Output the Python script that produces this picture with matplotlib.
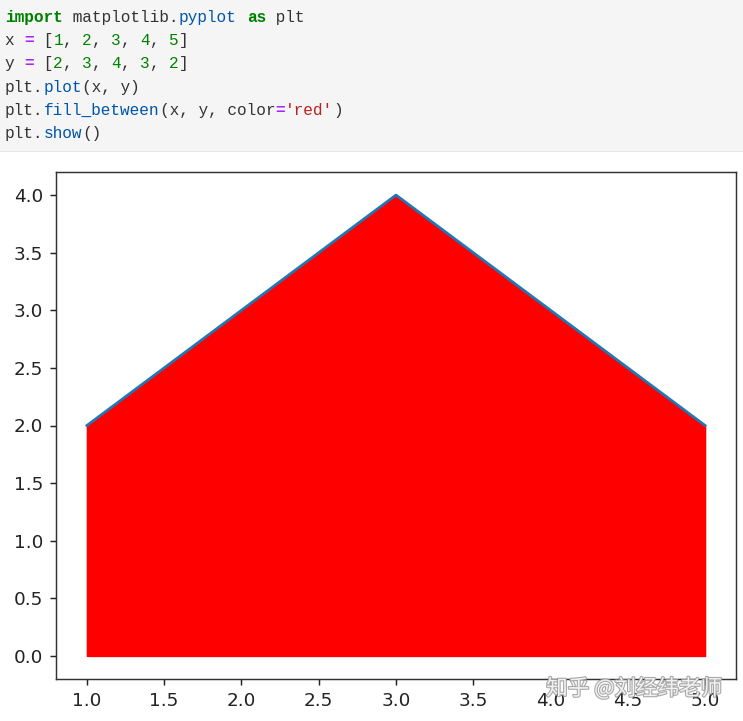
import matplotlib.pyplot as plt
import matplotlib.patheffects as pe
from matplotlib.patches import Rectangle

# data shown in the notebook cell
x = [1, 2, 3, 4, 5]
y = [2, 3, 4, 3, 2]

# code cell, tokenised as (text, colour, bold)
KW = "#008000"
OP = "#aa22ff"
NUM = "#008000"
ATTR = "#0055aa"
STR = "#ba2121"
TXT = "#333333"
code_lines = [
    [("import", KW, True), (" matplotlib.", TXT, False), ("pyplot", ATTR, False),
     (" ", TXT, False), ("as", KW, True), (" plt", TXT, False)],
    [("x ", TXT, False), ("=", OP, True), (" [", TXT, False), ("1", NUM, False), (", ", TXT, False),
     ("2", NUM, False), (", ", TXT, False), ("3", NUM, False), (", ", TXT, False),
     ("4", NUM, False), (", ", TXT, False), ("5", NUM, False), ("]", TXT, False)],
    [("y ", TXT, False), ("=", OP, True), (" [", TXT, False), ("2", NUM, False), (", ", TXT, False),
     ("3", NUM, False), (", ", TXT, False), ("4", NUM, False), (", ", TXT, False),
     ("3", NUM, False), (", ", TXT, False), ("2", NUM, False), ("]", TXT, False)],
    [("plt.", TXT, False), ("plot", ATTR, False), ("(x, y)", TXT, False)],
    [("plt.", TXT, False), ("fill_between", ATTR, False), ("(x, y, color", TXT, False),
     ("=", OP, True), ("'red'", STR, False), (")", TXT, False)],
    [("plt.", TXT, False), ("show", ATTR, False), ("()", TXT, False)],
]

W, H = 743, 721
fig = plt.figure(figsize=(W / 100, H / 100), dpi=100)

# grey code panel
fig.patches.append(Rectangle((0, 1 - 151 / H), 1, 151 / H, transform=fig.transFigure,
                             facecolor="#f5f5f5", edgecolor="none", zorder=0))
fig.patches.append(Rectangle((0, 1 - 152 / H), 1, 1.5 / H, transform=fig.transFigure,
                             facecolor="#e6e6e6", edgecolor="none", zorder=0))

code_size = 11.6
char_w = 0.6 * code_size * 100 / 72
for i, tokens in enumerate(code_lines):
    base = 22 + i * 23.2
    col = 0
    for text, color, bold in tokens:
        fig.text((5 + col * char_w) / W, 1 - base / H, text, color=color,
                 fontsize=code_size, family="Liberation Mono",
                 fontweight="bold" if bold else "normal", va="baseline", ha="left")
        col += len(text)

# the plot itself
s = 1.32
ax = fig.add_axes([56 / W, 42 / H, 680 / W, 507 / H])
ax.plot(x, y, linewidth=1.5 * s)
ax.fill_between(x, y, color="red")
ax.set_xticks([1.0, 1.5, 2.0, 2.5, 3.0, 3.5, 4.0, 4.5, 5.0])
ax.set_yticks([0.0, 0.5, 1.0, 1.5, 2.0, 2.5, 3.0, 3.5, 4.0])
ax.tick_params(labelsize=10 * s, length=3.5 * s, width=0.8 * s, pad=3.5 * s,
               colors="#222222")
for sp in ax.spines.values():
    sp.set_linewidth(0.8 * s)
    sp.set_color("#333333")

# watermark
fig.text(722 / W, 1 - 689 / H, "知乎 @刘经纬老师", ha="right", va="center",
         fontsize=15.5, family=["Noto Sans CJK SC", "DejaVu Sans"], color="white",
         alpha=0.85, path_effects=[pe.withStroke(linewidth=1.6, foreground="#9a9a9a")])

fig.savefig("out.png", dpi=100)
